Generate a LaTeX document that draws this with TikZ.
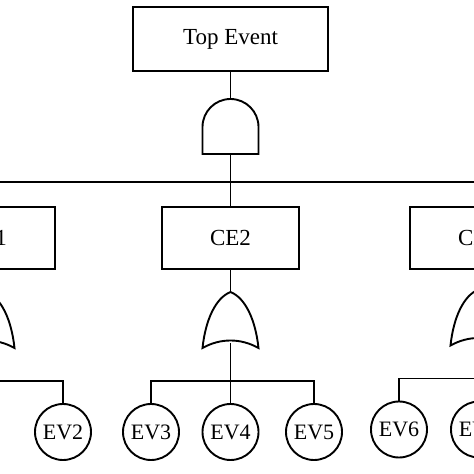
\documentclass[tikz,border=0pt]{standalone}
\usepackage{fontspec}
\setmainfont{Liberation Serif}
\usetikzlibrary{calc}

\tikzset{
  eventbox/.style={draw, minimum width=137pt, minimum height=62pt, inner sep=0pt,
    font=\fontsize{23}{23}\selectfont},
  basic/.style={draw, circle, minimum size=56pt, inner sep=0pt,
    font=\fontsize{22}{22}\selectfont},
}

\begin{document}
\begin{tikzpicture}[x=1pt,y=1pt,line width=1.9pt,line join=miter]
  \useasboundingbox (0,0) rectangle (474,474);
  \clip (0,0) rectangle (474,474);
  % top event and AND gate
  \node[eventbox, minimum width=195pt, minimum height=64pt] (top) at (230.5,435) {Top Event};
  \coordinate (andtop) at (230.5,375);
  \coordinate (andbot) at (230.5,320);
  \draw (202.5,320) -- (202.5,347) arc[start angle=180,end angle=0,radius=28] -- (258.5,320) -- cycle;
  \draw (top) -- (andtop);
  \coordinate (bar) at (230.5,292);
  \coordinate (barl) at (-20,292);
  \coordinate (barr) at (500,292);
  \draw (andbot) -- (bar);
  \draw (barl) -- (barr);
  % intermediate events with OR gates
  \foreach \x/\d/\n in {-13.5/0/1, 230.5/0/2, 478.5/2.5/3} {
    \node[eventbox] (ce\n) at (\x,236) {CE\n};
    \draw (ce\n.north |- bar) -- (ce\n);
    \coordinate (or\n top) at (\x,182+\d);
    \coordinate (or\n bot) at (\x,131+\d);
    \coordinate (sub\n) at (\x,93+\d);
    \draw ($(or\n top)+(-28,-56)$) .. controls ($(or\n top)+(-25,-28)$) and ($(or\n top)+(-15,-6)$) .. (or\n top)
      .. controls ($(or\n top)+(15,-6)$) and ($(or\n top)+(25,-28)$) .. ($(or\n top)+(28,-56)$)
      .. controls ($(or\n bot)+(10,5)$) and ($(or\n bot)+(-10,5)$) .. cycle;
    \draw (ce\n) -- (or\n top);
    \draw (or\n bot) -- (sub\n);
  }
  % basic events
  \node[basic] (ev2) at (63,42) {EV2};
  \node[basic] (ev3) at (151,42) {EV3};
  \node[basic] (ev4) at (230.5,42) {EV4};
  \node[basic] (ev5) at (314,42) {EV5};
  \node[basic] (ev6) at (399,44.5) {EV6};
  \node[basic] (ev7) at (479,44.5) {EV7};
  \coordinate (subl) at (-20,93);
  \coordinate (subr) at (500,95.5);
  \draw (subl) -| (ev2);
  \draw (ev3) |- (sub2) -| (ev5);
  \draw (sub2) -- (ev4);
  \draw (ev6) |- (subr);
  \draw (sub3) -- (ev7);
\end{tikzpicture}
\end{document}
